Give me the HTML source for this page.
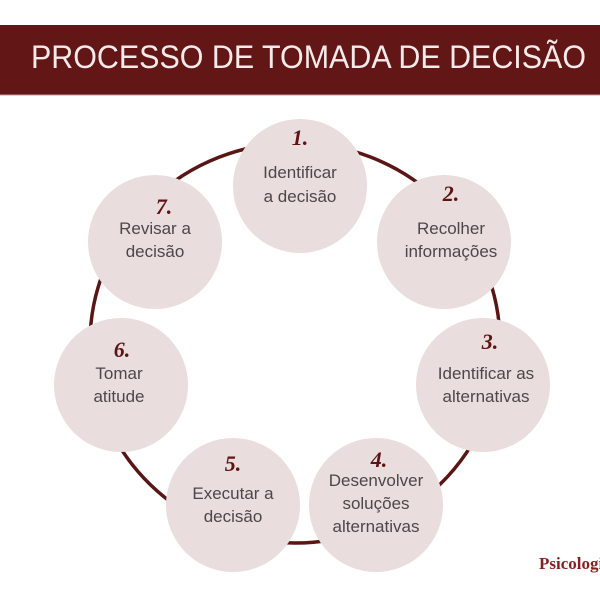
<!DOCTYPE html>
<html><head><meta charset="utf-8"><style>
html,body{margin:0;padding:0;background:#fff;width:600px;height:600px;overflow:hidden}
svg{display:block}
.t{font-family:"Liberation Sans",sans-serif;font-size:17px;fill:#4d4747;text-anchor:middle}
.n{font-family:"Liberation Serif",serif;font-size:22px;font-weight:bold;font-style:italic;fill:#5e1414;text-anchor:middle}
</style></head><body>
<svg width="600" height="600" viewBox="0 0 600 600">
<rect x="0" y="25" width="600" height="70" fill="#621616"/>
<line x1="0" y1="95" x2="600" y2="95" stroke="#c89a9a" stroke-width="1"/>
<text x="31" y="68" font-family="Liberation Sans,sans-serif" font-size="32" fill="#f6eaea" textLength="555" lengthAdjust="spacingAndGlyphs">PROCESSO DE TOMADA DE DECISÃO</text>
<ellipse cx="295" cy="343" rx="205" ry="200" fill="none" stroke="#5a1515" stroke-width="3.5"/>
<g fill="#e9dddd">
<circle cx="300" cy="186" r="67"/>
<circle cx="444" cy="242" r="67"/>
<circle cx="483" cy="385" r="67"/>
<circle cx="376" cy="505" r="67"/>
<circle cx="233" cy="505" r="67"/>
<circle cx="121" cy="385" r="67"/>
<circle cx="155" cy="242" r="67"/>
</g>
<text class="n" x="300" y="145">1.</text>
<text class="t" x="300" y="178">Identificar</text><text class="t" x="300" y="202">a decisão</text>
<text class="n" x="451" y="201">2.</text>
<text class="t" x="451" y="234">Recolher</text><text class="t" x="451" y="257">informações</text>
<text class="n" x="490" y="349">3.</text>
<text class="t" x="486" y="379">Identificar as</text><text class="t" x="486" y="402">alternativas</text>
<text class="n" x="379" y="467">4.</text>
<text class="t" x="376" y="486">Desenvolver</text><text class="t" x="376" y="509">soluções</text><text class="t" x="376" y="532">alternativas</text>
<text class="n" x="233" y="471">5.</text>
<text class="t" x="233" y="499">Executar a</text><text class="t" x="233" y="522">decisão</text>
<text class="n" x="122" y="357">6.</text>
<text class="t" x="119" y="379">Tomar</text><text class="t" x="119" y="402">atitude</text>
<text class="n" x="164" y="214">7.</text>
<text class="t" x="155" y="234">Revisar a</text><text class="t" x="155" y="257">decisão</text>
<text x="539" y="569" font-family="Liberation Serif,serif" font-size="17" font-weight="bold" fill="#8a1f1f">Psicologia</text>
</svg>
</body></html>
